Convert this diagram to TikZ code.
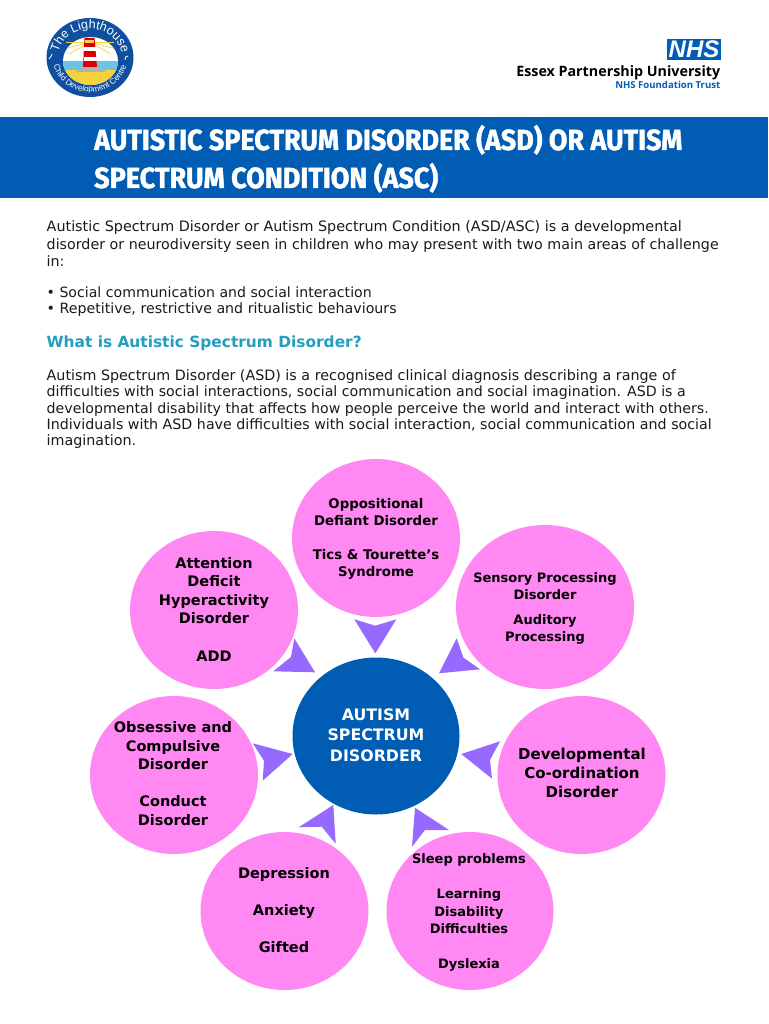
\documentclass[tikz,border=0pt]{standalone}
\usepackage{fontspec}
\setmainfont{DejaVu Sans}
\newfontfamily\titlefont{Fira Sans}[UprightFont=* Bold,BoldFont=* Bold,FakeBold=1.6]
\newfontfamily\logofont{Liberation Sans}
\newfontfamily\trustfont{Open Sans}
\usetikzlibrary{shapes.geometric,decorations.text}
\definecolor{nhsblue}{HTML}{005EB8}
\definecolor{bandblue}{HTML}{005DB3}
\definecolor{pinkfill}{HTML}{FF88F3}
\definecolor{arrowpurple}{HTML}{9669FF}
\definecolor{headteal}{HTML}{259DBE}
\definecolor{bodytext}{HTML}{1A1A1A}
\definecolor{lightgold}{HTML}{F5D33C}
\definecolor{seablue}{HTML}{6CC3E4}
\definecolor{ringblue}{HTML}{0F4FA0}
\newcommand{\fitw}[2]{\resizebox{#1pt}{!}{#2}}
\tikzset{
 x=1pt,y=-1pt,
 bodyline/.style={anchor=base west,inner sep=0pt,font=\fontsize{14.3}{16}\selectfont,text=bodytext},
 bubble/.style={draw=none,fill=pinkfill,ellipse,minimum width=168pt,minimum height=158pt,inner sep=0pt},
 bubbletext/.style={align=center,font=\bfseries\fontsize{14.5}{18.5}\selectfont,text=black},
 tri/.style={fill=arrowpurple,draw=none},
 titleline/.style={anchor=base west,inner sep=0pt,text=white}
}
\begin{document}
\begin{tikzpicture}
\useasboundingbox (0,0) rectangle (768,1024);
\fill[white] (0,0) rectangle (768,1024);
% logo
\fill[ringblue] (90,57.5) ellipse [x radius=43.5,y radius=39.5];
\fill[white] (90.5,61) ellipse [x radius=27.5,y radius=24];
\begin{scope}
\clip (90.5,61) ellipse [x radius=27.5,y radius=24];
\fill[seablue] (60,61) rectangle (120,70);
\fill[lightgold] (60,70) rectangle (120,90);
\end{scope}
\foreach \ang in {-150,-165,-15,-30,-180,0}
 \draw[lightgold,line width=0.7pt] (90,42) -- ++(\ang:24pt);
\fill[red!85!black] (84.5,38) -- (94.5,38) -- (97,67) -- (83,67) -- cycle;
\fill[white] (84,47) rectangle (95.5,51);
\fill[white] (83.5,57) rectangle (96.5,61);
\fill[lightgold] (85,40) rectangle (94,43);
\fill[gray!60] (76,72) .. controls (80,66) and (84,67) .. (90,68) .. controls (96,66) and (104,67) .. (106,72) -- cycle;
\draw[white,line width=0.8pt] (49,59) .. controls (51,56) and (52,56) .. (52,54);
\draw[white,line width=0.8pt] (128,56) .. controls (126,55) and (125,58) .. (125,60);
\path[decorate,decoration={text along path,text align=center,text color=white,text={|\logofont\fontsize{12.5}{13}\selectfont|The Lighthouse}}]
 plot[domain=-80:80,samples=50] ({90+32*sin(\x)},{57.5-28.5*cos(\x)});
\path[decorate,decoration={text along path,text align=center,text color=white,text={|\logofont\fontsize{8.2}{9}\selectfont|Child Development Centre}}]
 plot[domain=-84:84,samples=50] ({90+37.5*sin(\x)},{57.5+34.5*cos(\x)});
% NHS logo
\fill[nhsblue] (667,39) rectangle (721,60);
\node[inner sep=0pt,text=white,font=\logofont\bfseries\itshape\fontsize{24}{24}\selectfont] (nhs) at (694,49.5) {NHS};
\node[anchor=base east,inner sep=0pt,font=\trustfont\bfseries\fontsize{15}{16}\selectfont,text=black] (epu) at (720.5,77) {\fitw{204}{Essex Partnership University}};
\node[anchor=base east,inner sep=0pt,font=\trustfont\bfseries\fontsize{10}{12}\selectfont,text=nhsblue] (ft) at (720.5,89) {\fitw{105}{NHS Foundation Trust}};
% band
\fill[bandblue] (0,117) rectangle (768,198);
\node[titleline] (t1) at (94,150) {\titlefont\resizebox{588pt}{25pt}{AUTISTIC SPECTRUM DISORDER (ASD) OR AUTISM}};
\node[titleline] (t2) at (94,188) {\titlefont\resizebox{344pt}{25pt}{SPECTRUM CONDITION (ASC)}};
% body
\node[bodyline] (b1) at (46.5,232) {\fitw{635}{Autistic Spectrum Disorder or Autism Spectrum Condition (ASD/ASC) is a developmental}};
\node[bodyline] (b2) at (46.5,249) {\fitw{672}{disorder or neurodiversity seen in children who may present with two main areas of challenge}};
\node[bodyline] (b3) at (46.5,266) {in:};
\node[bodyline] (b4) at (46.5,297) {\fitw{325}{• Social communication and social interaction}};
\node[bodyline] (b5) at (46.5,313) {\fitw{350}{• Repetitive, restrictive and ritualistic behaviours}};
\node[bodyline,text=headteal,font=\bfseries\fontsize{14.6}{16}\selectfont] (h) at (46.5,347) {\fitw{315}{What is Autistic Spectrum Disorder?}};
\node[bodyline] (c1) at (46.5,380) {\fitw{629}{Autism Spectrum Disorder (ASD) is a recognised clinical diagnosis describing a range of}};
\node[bodyline] (c2) at (46.5,396) {\fitw{639}{difficulties with social interactions, social communication and social imagination. ASD is a}};
\node[bodyline] (c3) at (46.5,413) {\fitw{662}{developmental disability that affects how people perceive the world and interact with others.}};
\node[bodyline] (c4) at (46.5,429) {\fitw{665}{Individuals with ASD have difficulties with social interaction, social communication and social}};
\node[bodyline] (c5) at (46.5,445) {imagination.};
% bubbles
\node[bubble] (top) at (376,538) {};
\node[bubble] (ul) at (214,610) {};
\node[bubble,minimum width=178pt,minimum height=164pt] (ur) at (545,607) {};
\node[bubble] (l) at (174,775) {};
\node[bubble] (r) at (581.5,775) {};
\node[bubble] (ll) at (284.5,911) {};
\node[bubble,minimum width=167pt] (lr) at (470,911) {};
\node[bubble,fill=bandblue,minimum width=167pt,minimum height=157pt] (c) at (376,736) {};
% bubble texts
\node[bubbletext,font=\bfseries\fontsize{13.3}{16.8}\selectfont] (ttop) at (376,539) {Oppositional\\Defiant Disorder\\[17pt]Tics \& Tourette's\\Syndrome};
\node[bubbletext,font=\bfseries\fontsize{14.5}{18.6}\selectfont] (tul) at (214,609) {Attention\\Deficit\\Hyperactivity\\Disorder\\[18.6pt]ADD};
\node[bubbletext,font=\bfseries\fontsize{13}{17}\selectfont] (tur) at (545,608) {Sensory Processing\\Disorder\\[8pt]Auditory\\Processing};
\node[bubbletext,font=\bfseries\fontsize{14.5}{18.6}\selectfont] (tl) at (173,773.5) {Obsessive and\\Compulsive\\Disorder\\[18.6pt]Conduct\\Disorder};
\node[bubbletext,font=\bfseries\fontsize{15}{19}\selectfont] (tr) at (582,773) {Developmental\\Co-ordination\\Disorder};
\node[bubbletext,font=\bfseries\fontsize{14.5}{18.6}\selectfont] (tll) at (284,910) {Depression\\[18.6pt]Anxiety\\[18.6pt]Gifted};
\node[bubbletext,font=\bfseries\fontsize{13}{17.6}\selectfont] (tlr) at (469,912.5) {Sleep problems\\[17.6pt]Learning\\Disability\\Difficulties\\[17.6pt]Dyslexia};
\node[bubbletext,text=white,font=\bfseries\fontsize{15.8}{20.3}\selectfont] (tc) at (376,735) {AUTISM\\SPECTRUM\\DISORDER};
% arrowheads
\fill[tri] (375.3,653.3) -- (354.3,619.3) -- (375.3,625.7) -- (396.3,619.3) -- cycle;
\fill[tri] (315,672.3) -- (294.3,638.3) -- (291,657) -- (273.3,671.3) -- cycle;
\fill[tri] (439,673.3) -- (456.7,638.3) -- (463.3,657.5) -- (480,669.3) -- cycle;
\fill[tri] (292.7,754) -- (252.7,743.3) -- (264,760.7) -- (262.7,780.7) -- cycle;
\fill[tri] (461.3,754) -- (500,741.3) -- (490,760) -- (492,778.7) -- cycle;
\fill[tri] (333.3,805) -- (298.7,827.3) -- (321.7,826.7) -- (335.7,843.7) -- cycle;
\fill[tri] (415,807.7) -- (449,830) -- (425,830) -- (412,846.7) -- cycle;
\end{tikzpicture}
\end{document}
